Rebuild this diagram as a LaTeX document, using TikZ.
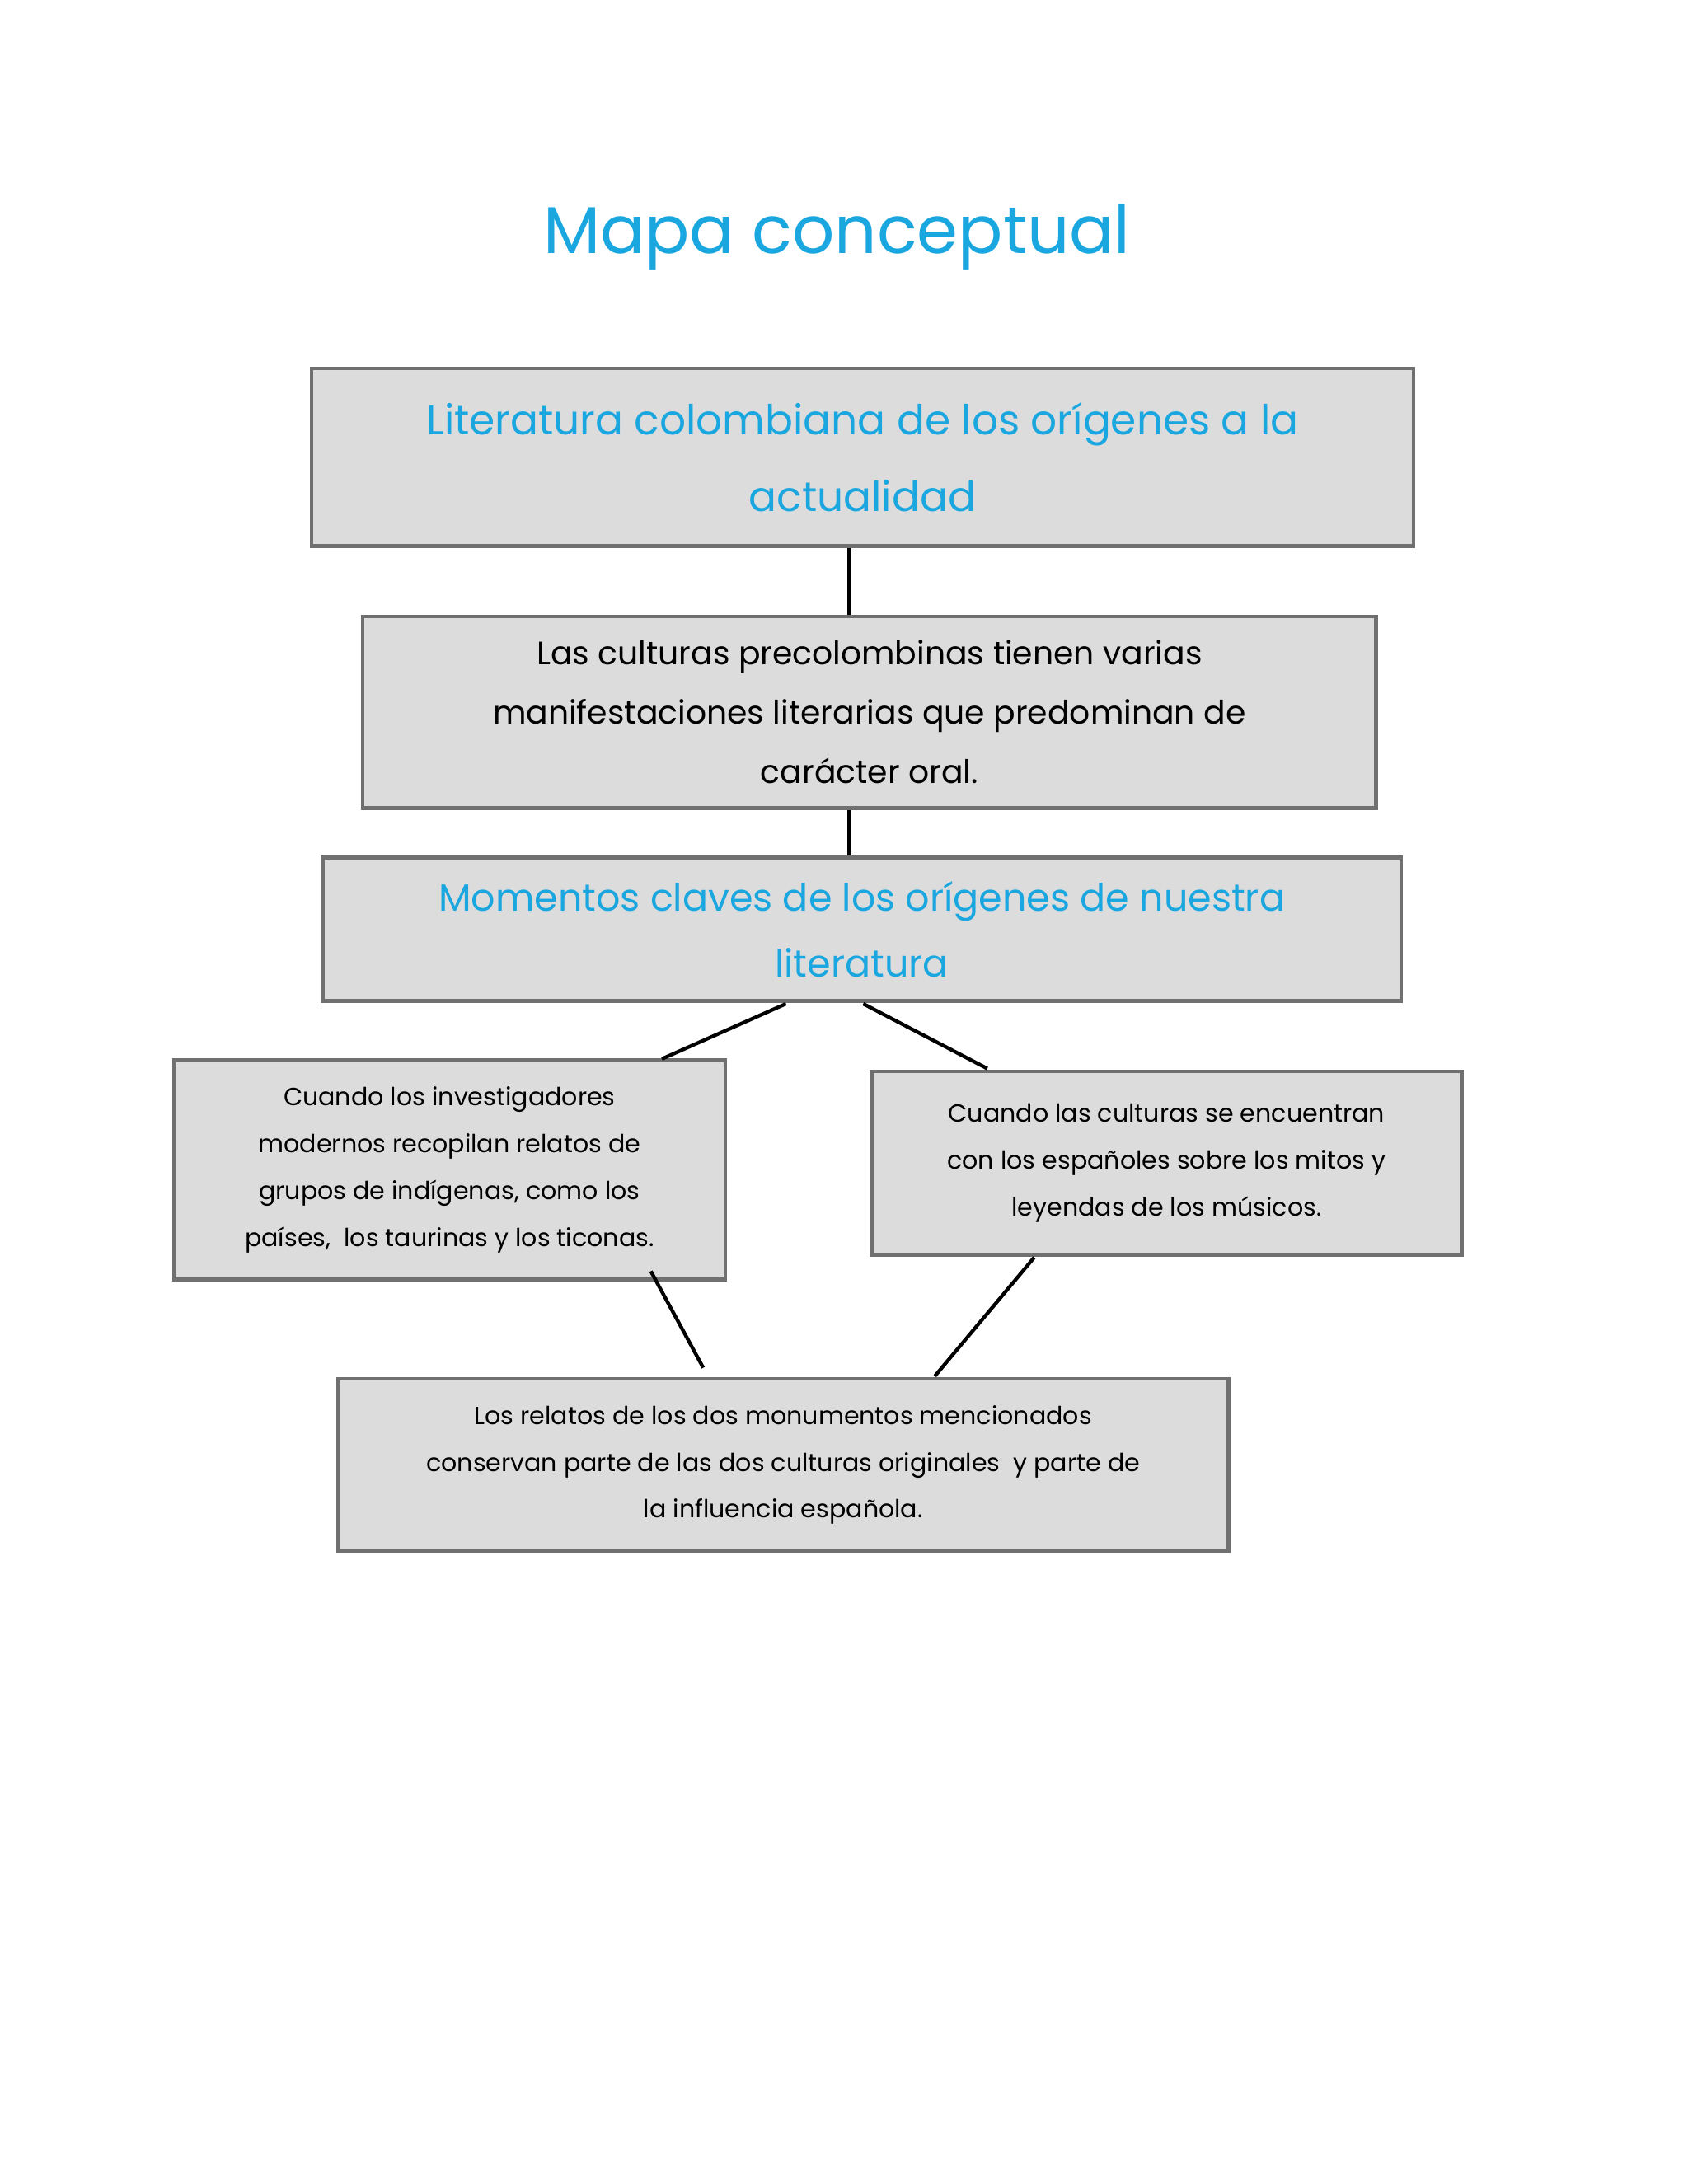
\documentclass[tikz,border=0pt]{standalone}
\usepackage{fontspec}
\setmainfont{Poppins}
\definecolor{tblue}{HTML}{1AA7E0}
\definecolor{bfill}{HTML}{DDDCDD}
\definecolor{bline}{HTML}{707070}
\begin{document}
\begin{tikzpicture}[x=1pt,y=-1pt,
  cbox/.style={draw=bline,line width=2.6pt,fill=bfill,inner sep=0pt},
  conn/.style={line width=2.6pt,black}]
\useasboundingbox[fill=white] (0,0) rectangle (1224,1584);
\node[tblue,font=\fontsize{48}{56}\selectfont] (title) at (607,172) {Mapa conceptual};
\node[cbox,minimum width=799,minimum height=129] (b1) at (625.5,331.5) {};
\node[tblue,align=center,font=\fontsize{30}{55}\selectfont] at (b1) {Literatura colombiana de los orígenes a la\\actualidad};
\node[cbox,minimum width=735,minimum height=139] (b2) at (630.5,516.5) {};
\node[align=center,font=\fontsize{23.5}{43}\selectfont] at (b2) {Las culturas precolombinas tienen varias\\manifestaciones literarias que predominan de\\carácter oral.};
\node[cbox,minimum width=782,minimum height=104] (b3) at (625,674) {};
\node[tblue,align=center,font=\fontsize{27.5}{48}\selectfont] at (b3) {Momentos claves de los orígenes de nuestra\\literatura};
\node[cbox,minimum width=400,minimum height=159] (b4) at (326,848.5) {};
\node[align=center,font=\fontsize{18}{34}\selectfont] at (b4) {Cuando los investigadores\\modernos recopilan relatos de\\grupos de indígenas, como los\\países,\ \ los taurinas y los ticonas.};
\node[cbox,minimum width=428,minimum height=133] (b5) at (846,843.5) {};
\node[align=center,font=\fontsize{18}{34}\selectfont] at (b5) {Cuando las culturas se encuentran\\con los españoles sobre los mitos y\\leyendas de los músicos.};
\node[cbox,minimum width=646,minimum height=125] (b6) at (568,1062.5) {};
\node[align=center,font=\fontsize{18}{34}\selectfont] at (b6) {Los relatos de los dos monumentos mencionados\\conservan parte de las dos culturas originales\ \ y parte de\\la influencia española.};
\coordinate (c1) at (570,728); \coordinate (c2) at (480,768);
\coordinate (c3) at (626,728); \coordinate (c4) at (716,775);
\coordinate (c5) at (472,922); \coordinate (c6) at (510,992);
\coordinate (c7) at (750,912); \coordinate (c8) at (678,998);
\draw[conn] (b1.south -| 616,0) -- (b2.north -| 616,0);
\draw[conn] (b2.south -| 616,0) -- (b3.north -| 616,0);
\draw[conn] (c1) -- (c2);
\draw[conn] (c3) -- (c4);
\draw[conn] (c5) -- (c6);
\draw[conn] (c7) -- (c8);
\end{tikzpicture}
\end{document}
